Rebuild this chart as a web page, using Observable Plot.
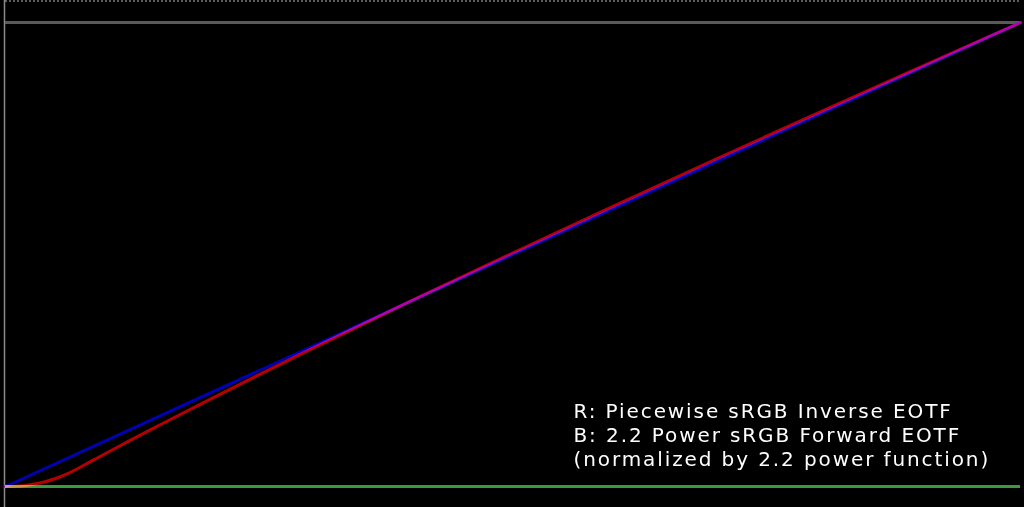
<!DOCTYPE html>
<html>
<head>
<meta charset="utf-8">
<script src="https://cdn.jsdelivr.net/npm/d3@7"></script>
<script src="https://cdn.jsdelivr.net/npm/@observablehq/plot@0.6"></script>
<style>
  html, body { margin: 0; padding: 0; background: #000; }
  #chart svg { display: block; }
  #chart text { letter-spacing: 1.9px; }
</style>
</head>
<body>
<div id="chart"></div>
<script>
// Red: piecewise sRGB inverse EOTF (normalized by 2.2 power)
const redX = [0, 0.01, 0.02, 0.03, 0.04, 0.05, 0.06, 0.07, 0.08, 0.09, 0.10, 0.12, 0.15, 0.20, 0.25, 0.30, 0.35, 0.40, 0.50, 0.60, 0.70, 0.80, 0.90, 1.00];
const redY = [0, 0.0005, 0.0024, 0.0058, 0.0109, 0.0177, 0.0265, 0.0372, 0.0492, 0.0610, 0.0728, 0.0961, 0.1303, 0.1863, 0.2411, 0.2950, 0.3480, 0.4004, 0.5038, 0.6055, 0.7058, 0.8048, 0.9029, 1.0000];
// Blue: 2.2 power sRGB forward EOTF (normalized) — straight diagonal
const blueX = [0, 0.25, 0.5, 0.75, 1];
const blueY = [0, 0.25, 0.5, 0.75, 1];
// Reference lines
const greenLevel = [0];
const topLevel = [1];
const legendLines = [
  "R: Piecewise sRGB Inverse EOTF",
  "B: 2.2 Power sRGB Forward EOTF",
  "(normalized by 2.2 power function)"
];

const red = redX.map((x, i) => ({x, y: redY[i]}));
const blue = blueX.map((x, i) => ({x, y: blueY[i]}));

const chart = Plot.plot({
  width: 1024,
  height: 507,
  marginLeft: 5,
  marginRight: 4,
  marginTop: 22,
  marginBottom: 21,
  x: {domain: [0, 1], axis: null},
  y: {domain: [0, 1], axis: null},
  style: {background: "#000", color: "#fff"},
  marks: [
    Plot.ruleX([0], {stroke: "#8a8a8a", strokeWidth: 1.5, dx: -1, insetTop: -22, insetBottom: -21}),
    Plot.ruleY(topLevel, {stroke: "#5a5a5a", strokeWidth: 3}),
    Plot.ruleY(topLevel, {stroke: "#bbbbbb", strokeWidth: 1, strokeDasharray: "2,2", dy: -21.5}),
    Plot.line(blue, {x: "x", y: "y", stroke: "#0000b4", strokeWidth: 3}),
    Plot.line(red, {x: "x", y: "y", stroke: "#b40000", strokeWidth: 3, curve: "monotone-x", mixBlendMode: "screen"}),
    Plot.ruleY(greenLevel, {stroke: "#3c9a3c", strokeWidth: 3, mixBlendMode: "screen"}),
    Plot.text([legendLines.join("\n")], {
      frameAnchor: "bottom-left",
      dx: 568,
      dy: -21,
      lineAnchor: "bottom",
      textAnchor: "start",
      lineHeight: 1.18,
      fill: "#ffffff",
      fontSize: 20,
      fontFamily: "'DejaVu Sans', sans-serif"
    })
  ]
});
document.getElementById("chart").appendChild(chart);
</script>
</body>
</html>
